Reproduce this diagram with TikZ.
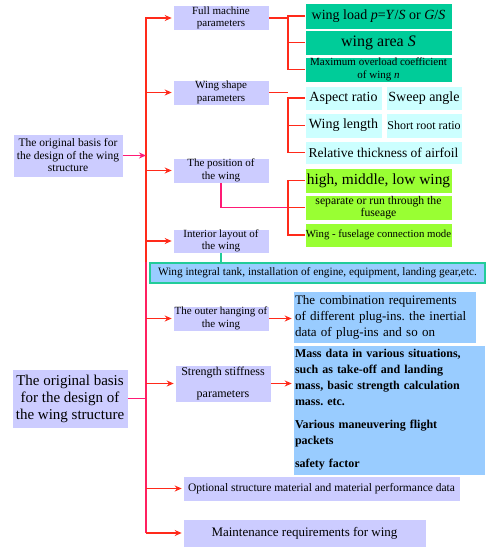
\documentclass[tikz,border=0pt]{standalone}
\usepackage{fontspec}
\setmainfont{Liberation Serif}
\usetikzlibrary{positioning, arrows.meta, calc}
\frenchspacing

\definecolor{lavbox}{HTML}{CCCCFF}
\definecolor{tealbox}{HTML}{00CC99}
\definecolor{cyanbox}{HTML}{CCFFFF}
\definecolor{limebox}{HTML}{99FF33}
\definecolor{bluebox}{HTML}{99CCFF}
\definecolor{trunkred}{HTML}{FF2A1A}
\definecolor{trunkpink}{HTML}{FF2060}
\definecolor{linkpink}{HTML}{FF1A75}
\definecolor{tankedge}{HTML}{22CC99}

\begin{document}
\begin{tikzpicture}[x=1pt, y=-1pt, >={Stealth[length=7pt, width=6pt]},
  box/.style={inner sep=0pt, align=center, draw=white, line width=0.6pt},
  lav/.style={box, fill=lavbox, minimum width=96, minimum height=25, font=\fontsize{11}{12.5}\selectfont},
  teal/.style={box, fill=tealbox, minimum width=147, minimum height=25},
  cyanb/.style={box, fill=cyanbox, minimum height=24},
  lime/.style={box, fill=limebox, minimum width=147, minimum height=25},
  blue/.style={box, fill=bluebox, align=left},
  arr/.style={->, line width=1.6pt, trunkred, shorten >=1pt},
  branch/.style={line width=1.6pt, trunkred}]

\useasboundingbox (0,0) rectangle (496,552);

% --- trunk ---
\coordinate (trunktop) at (146,17);
\coordinate (trunkmid) at (146,262);
\coordinate (trunkbot) at (146,533);
\coordinate (bx) at (288,0);
\draw[branch] (trunktop) -- (trunkmid);
\draw[line width=1.6pt, trunkpink] (trunkmid) -- (trunkbot);

% --- first column ---
\node[lav] (full) at (221,18) {Full machine\\parameters};
\node[lav] (shape) at (221,92.5) {Wing shape\\parameters};
\node[lav] (pos) at (221,170.5) {The position of\\the wing};
\node[lav, minimum height=24] (inter) at (221,241) {Interior layout of\\the wing};
\node[lav] (outer) at (221,318.5) {The outer hanging of\\the wing};
\node[lav, minimum height=37, font=\fontsize{12}{22}\selectfont] (strength) at (223,383.5)
  {Strength stiffness\\parameters};
\node[lav, minimum width=277, font=\fontsize{11.5}{13}\selectfont] (optional) at (321.5,488.5)
  {Optional structure material and material performance data};
\node[lav, minimum width=243, minimum height=28, font=\fontsize{13}{15}\selectfont] (maint) at (304.5,533)
  {Maintenance requirements for wing};

% --- basis boxes ---
\node[lav, minimum width=110, minimum height=43, font=\fontsize{11.5}{12.5}\selectfont] (basisA) at (68,155.5)
  {The original basis for\\the design of the wing\\structure};
\node[lav, minimum width=116, minimum height=59, font=\fontsize{15}{17}\selectfont] (basisB) at (70,398.5)
  {The original basis\\for the design of\\the wing structure};

% --- full machine parameters ---
\node[teal, minimum height=26, font=\fontsize{14}{16}\selectfont] (wload) at (378.5,16)
  {wing load \textit{p}=\textit{Y}/\textit{S} or \textit{G}/\textit{S}};
\node[teal, font=\fontsize{16}{18}\selectfont] (warea) at (378.5,42.5) {wing area \textit{S}};
\node[teal, font=\fontsize{11}{12.5}\selectfont] (over) at (378.5,69.5)
  {Maximum overload coefficient\\of wing \textit{n}};

% --- wing shape parameters ---
\node[cyanb, minimum width=77, font=\fontsize{14}{16}\selectfont] (aspect) at (343.5,98) {Aspect ratio};
\node[cyanb, minimum width=76, font=\fontsize{14}{16}\selectfont] (sweep) at (424,98) {Sweep angle};
\node[cyanb, minimum width=77, minimum height=25, font=\fontsize{14}{16}\selectfont] (wlen) at (343.5,125.5) {Wing length};
\node[cyanb, minimum width=76, minimum height=25, font=\fontsize{12}{14}\selectfont] (sroot) at (424,125.5) {Short root ratio};
\node[cyanb, minimum width=157, minimum height=23, font=\fontsize{13.5}{15}\selectfont] (relthk) at (383.5,152.5)
  {Relative thickness of airfoil};

% --- position of the wing ---
\node[lime, font=\fontsize{15.4}{17}\selectfont] (hml) at (378.5,180.5) {high, middle, low wing};
\node[lime, font=\fontsize{11.7}{12.5}\selectfont] (sep) at (378.5,207.5) {separate or run through the\\fuseage};
\node[lime, minimum height=24, font=\fontsize{10.8}{12}\selectfont] (conn) at (378.5,235)
  {Wing - fuselage connection mode};

% --- interior layout ---
\node[box, fill=bluebox, draw=tankedge, line width=1.6pt, minimum width=335, minimum height=20,
  font=\fontsize{11.3}{13}\selectfont] (tank) at (317.5,273)
  {Wing integral tank, installation of engine, equipment, landing gear,etc.};

% --- outer hanging / strength ---
\node[blue, minimum width=183, minimum height=52, text width=179, font=\fontsize{13}{16}\selectfont] (combo) at (384.5,317)
  {The combination requirements\\of different plug-ins. the inertial\\data of plug-ins and so on};
\node[blue, minimum width=192, minimum height=130, text width=188, font=\fontsize{12}{16}\bfseries\selectfont] (mass) at (389,410)
  {Mass data in various situations,\\such as take-off and landing\\mass, basic strength calculation\\mass. etc.\\[7pt]
   Various maneuvering flight\\packets\\[7pt] safety factor};

% --- trunk arrows ---
\foreach \n in {full, shape, pos, inter, outer, strength, optional, maint}
  \draw[arr] (\n.west -| trunktop) -- (\n.west);

% --- basis links ---
\draw[->, line width=1.6pt, linkpink] (basisA.east) -- (basisA.east -| trunktop);
\draw[line width=1.6pt, linkpink] (basisB.east) -- (basisB.east -| trunktop);

% --- brackets ---
\draw[branch] (full.east) -- (full.east -| bx);
\draw[branch] (wload.west) -| (bx |- over.west) -- (over.west);
\draw[branch] (warea.west -| bx) -- (warea.west);
\draw[branch] (shape.east) -- (shape.east -| bx);
\draw[branch] (aspect.west) -| (bx |- relthk.west) -- (relthk.west);
\draw[branch] (wlen.west -| bx) -- (wlen.west);
\draw[line width=1.6pt, linkpink] (pos.south) |- (sep.west -| bx);
\draw[branch] (hml.west) -| (bx |- conn.west) -- (conn.west);
\draw[branch] (sep.west -| bx) -- (sep.west);
\draw[line width=1.6pt, tankedge] (inter.south) -- (inter.south |- tank.north);
\draw[arr] (outer.east) -- (outer.east -| combo.west);
\draw[arr] (strength.east) -- (strength.east -| mass.west);

\end{tikzpicture}
\end{document}
